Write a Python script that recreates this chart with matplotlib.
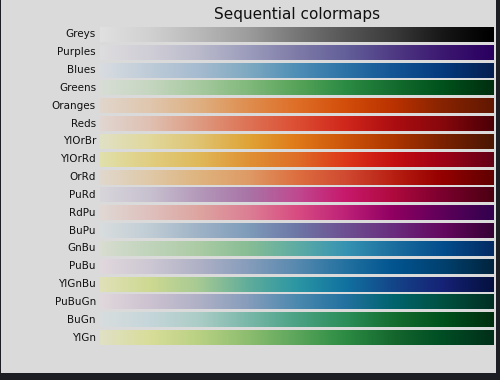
import numpy as np
import matplotlib
matplotlib.use("Agg")
import matplotlib.pyplot as plt
from matplotlib.colors import ListedColormap
from matplotlib.patches import Rectangle

title = "Sequential colormaps"
cmap_names = ['Greys', 'Purples', 'Blues', 'Greens', 'Oranges', 'Reds',
              'YlOrBr', 'YlOrRd', 'OrRd', 'PuRd', 'RdPu', 'BuPu',
              'GnBu', 'PuBu', 'YlGnBu', 'PuBuGn', 'BuGn', 'YlGn']

gradient = np.linspace(0, 1, 256)
gradient = np.vstack((gradient, gradient))

W, H = 500, 380
fig = plt.figure(figsize=(W / 100, H / 100), dpi=100)
fig.patch.set_facecolor('#1d1e23')
# light window area
fig.patches.append(Rectangle((1 / W, 1 - 373 / H), 495 / W, 373 / H,
                             transform=fig.transFigure, facecolor='#dadada',
                             edgecolor='none', zorder=-5))

nrows = len(cmap_names)
gs = fig.add_gridspec(nrows, 1, left=100 / W, right=494 / W,
                      top=1 - 27 / H, bottom=1 - 345 / H, hspace=0.2)
axs = [fig.add_subplot(gs[i, 0]) for i in range(nrows)]

dim = 0.88
gamma = 1.2
for ax, name in zip(axs, cmap_names):
    base = plt.get_cmap(name)(np.linspace(0, 1, 256))
    cols = base.copy()
    cols[:, :3] = (cols[:, :3] ** gamma) * dim
    cm = ListedColormap(cols)
    ax.imshow(gradient, aspect='auto', cmap=cm)
    ax.set_axis_off()
    pos = ax.get_position()
    fig.text(pos.x0 - 4 / W, (pos.y0 + pos.y1) / 2, name, va='center',
             ha='right', fontsize=7.5, color='#111111')

pos0 = axs[0].get_position()
fig.text((pos0.x0 + pos0.x1) / 2, 1 - 15 / H, title, ha='center', va='center',
         fontsize=11, color='#111111')

fig.savefig('out.png', dpi=100, facecolor=fig.get_facecolor())
